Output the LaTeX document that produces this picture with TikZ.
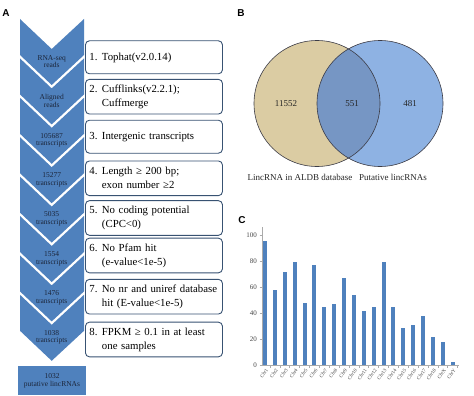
\documentclass[tikz,border=0pt]{standalone}
\usepackage{fontspec}
\setmainfont{Liberation Serif}
\newfontfamily\panelfont{Liberation Sans}
\definecolor{chevblue}{RGB}{79,129,189}
\definecolor{chevtext}{RGB}{28,38,58}
\definecolor{boxborder}{RGB}{56,82,114}
\definecolor{venntan}{RGB}{219,204,163}
\definecolor{vennblue}{RGB}{142,178,227}
\definecolor{vennmid}{RGB}{118,150,196}
\definecolor{vennline}{RGB}{60,60,70}
\definecolor{axisgray}{RGB}{170,170,170}
\definecolor{labgray}{RGB}{70,70,70}
\newcommand\stp[2]{\begin{tabular}{@{}p{12.5pt}@{}l@{}}#1 & #2\end{tabular}}
\tikzset{
  panel/.style={font=\panelfont\bfseries\fontsize{10}{10}\selectfont, inner sep=0pt},
  chevshape/.style={fill=chevblue, draw=none},
  chevlabel/.style={font=\fontsize{7.5}{7.8}\selectfont, text=chevtext, align=center, inner sep=0pt},
  stepbox/.style={draw=boxborder, line width=0.9pt, rounded corners=4pt, fill=white,
    anchor=west, minimum height=33pt, text width=129pt, inner xsep=4pt, align=left,
    font=\fontsize{10.8}{14}\selectfont},
  vennlab/.style={font=\fontsize{9}{10}\selectfont, text=black!85, inner sep=0pt},
  vline/.style={draw=vennline, line width=0.6pt},
  axisline/.style={draw=axisgray, line width=0.6pt},
  ylab/.style={font=\fontsize{7}{7}\selectfont, text=labgray, anchor=east, inner sep=0pt},
  xlab/.style={font=\fontsize{5}{5}\selectfont, text=labgray, anchor=east, rotate=55, inner sep=0pt},
  bar/.style={fill=chevblue, draw=none}
}
\begin{document}
\begin{tikzpicture}[x=1pt,y=-1pt]
\useasboundingbox (0,0) rectangle (474,396);
\fill[white] (0,0) rectangle (474,396);

% panel labels
\node[panel] (lA) at (6,13) {A};
\node[panel] (lB) at (241,13) {B};
\node[panel] (lC) at (242,220) {C};

% ---------- Panel A: chevrons ----------
\foreach \lab [count=\i from 0] in {RNA-seq\\reads, Aligned\\reads, 105687\\transcripts, 15277\\transcripts, 5035\\transcripts, 1554\\transcripts, 1476\\transcripts, 1038\\transcripts}{
  \pgfmathsetmacro\yt{19+39.4*\i}
  \pgfmathsetmacro\yb{\yt+36}
  \fill[chevshape] (20,\yt) -- (51.7,\yt+30) -- (84,\yt) -- (84,\yb) -- (51.7,\yb+30) -- (20,\yb) -- cycle;
  \node[chevlabel] (c\i) at (51.7,\yt+42.5) {\lab};
}
\node[fill=chevblue, minimum width=68pt, minimum height=29pt, inner sep=0pt, align=center,
  font=\fontsize{7.5}{7.8}\selectfont, text=chevtext] (final) at (52,380.5) {1032\\putative lincRNAs};

% step boxes
\node[stepbox] (b1) at (85,57.3) {\stp{1.}{Tophat(v2.0.14)}};
\node[stepbox] (b2) at (85,96.7) {\stp{2.}{Cufflinks(v2.2.1);\\ & Cuffmerge}};
\node[stepbox] (b3) at (85,136.7) {\stp{3.}{Intergenic transcripts}};
\node[stepbox] (b4) at (85,178.3) {\stp{4.}{Length ≥ 200 bp;\\ & exon number ≥2}};
\node[stepbox] (b5) at (85,218) {\stp{5.}{No coding potential\\ & (CPC<0)}};
\node[stepbox] (b6) at (85,255.5) {\stp{6.}{No Pfam hit\\ & (e-value<1e-5)}};
\node[stepbox] (b7) at (85,296.7) {\stp{7.}{No nr and uniref database\\ & hit (E-value<1e-5)}};
\node[stepbox] (b8) at (85,339.5) {\stp{8.}{FPKM ≥ 0.1 in at least\\ & one samples}};

% ---------- Panel B: Venn ----------
\fill[venntan] (317,103.5) circle (63pt);
\fill[vennblue] (380,103.5) circle (63pt);
\begin{scope}
  \clip (317,103.5) circle (63pt);
  \fill[vennmid] (380,103.5) circle (63pt);
\end{scope}
\draw[vline] (317,103.5) circle (63pt);
\draw[vline] (380,103.5) circle (63pt);
\node[vennlab] (n1) at (286,104) {11552};
\node[vennlab] (n2) at (352,104) {551};
\node[vennlab] (n3) at (410,104) {481};
\node[vennlab] (s1) at (300,177.5) {LincRNA in ALDB database};
\node[vennlab] (s2) at (393,177.5) {Putative lincRNAs};

% ---------- Panel C: bar chart ----------
\draw[axisline] (262,227) -- (262,365) -- (459,365);
\foreach \v in {0,20,40,60,80,100}{
  \pgfmathsetmacro\yy{365-1.293*\v}
  \draw[axisline] (259.5,\yy) -- (262,\yy);
  \node[ylab] (y\v) at (257,\yy) {\v};
}
\foreach \v/\lab [count=\i from 0] in {96/Chr1,58/Chr2,72/Chr3,80/Chr4,48/Chr5,77/Chr6,45/Chr7,47/Chr8,67/Chr9,54/Chr10,42/Chr11,45/Chr12,80/Chr13,45/Chr14,29/Chr15,31/Chr16,38/Chr17,22/Chr18,18/ChrX,2/ChrY}{
  \pgfmathsetmacro\bx{265+9.88*\i}
  \fill[bar] (\bx-2,365) rectangle (\bx+2,{365-1.293*\v});
  \draw[axisline] (\bx+4.94,365) -- (\bx+4.94,367.5);
  \node[xlab] (x\i) at (\bx+2,369) {\lab};
}
\end{tikzpicture}
\end{document}
